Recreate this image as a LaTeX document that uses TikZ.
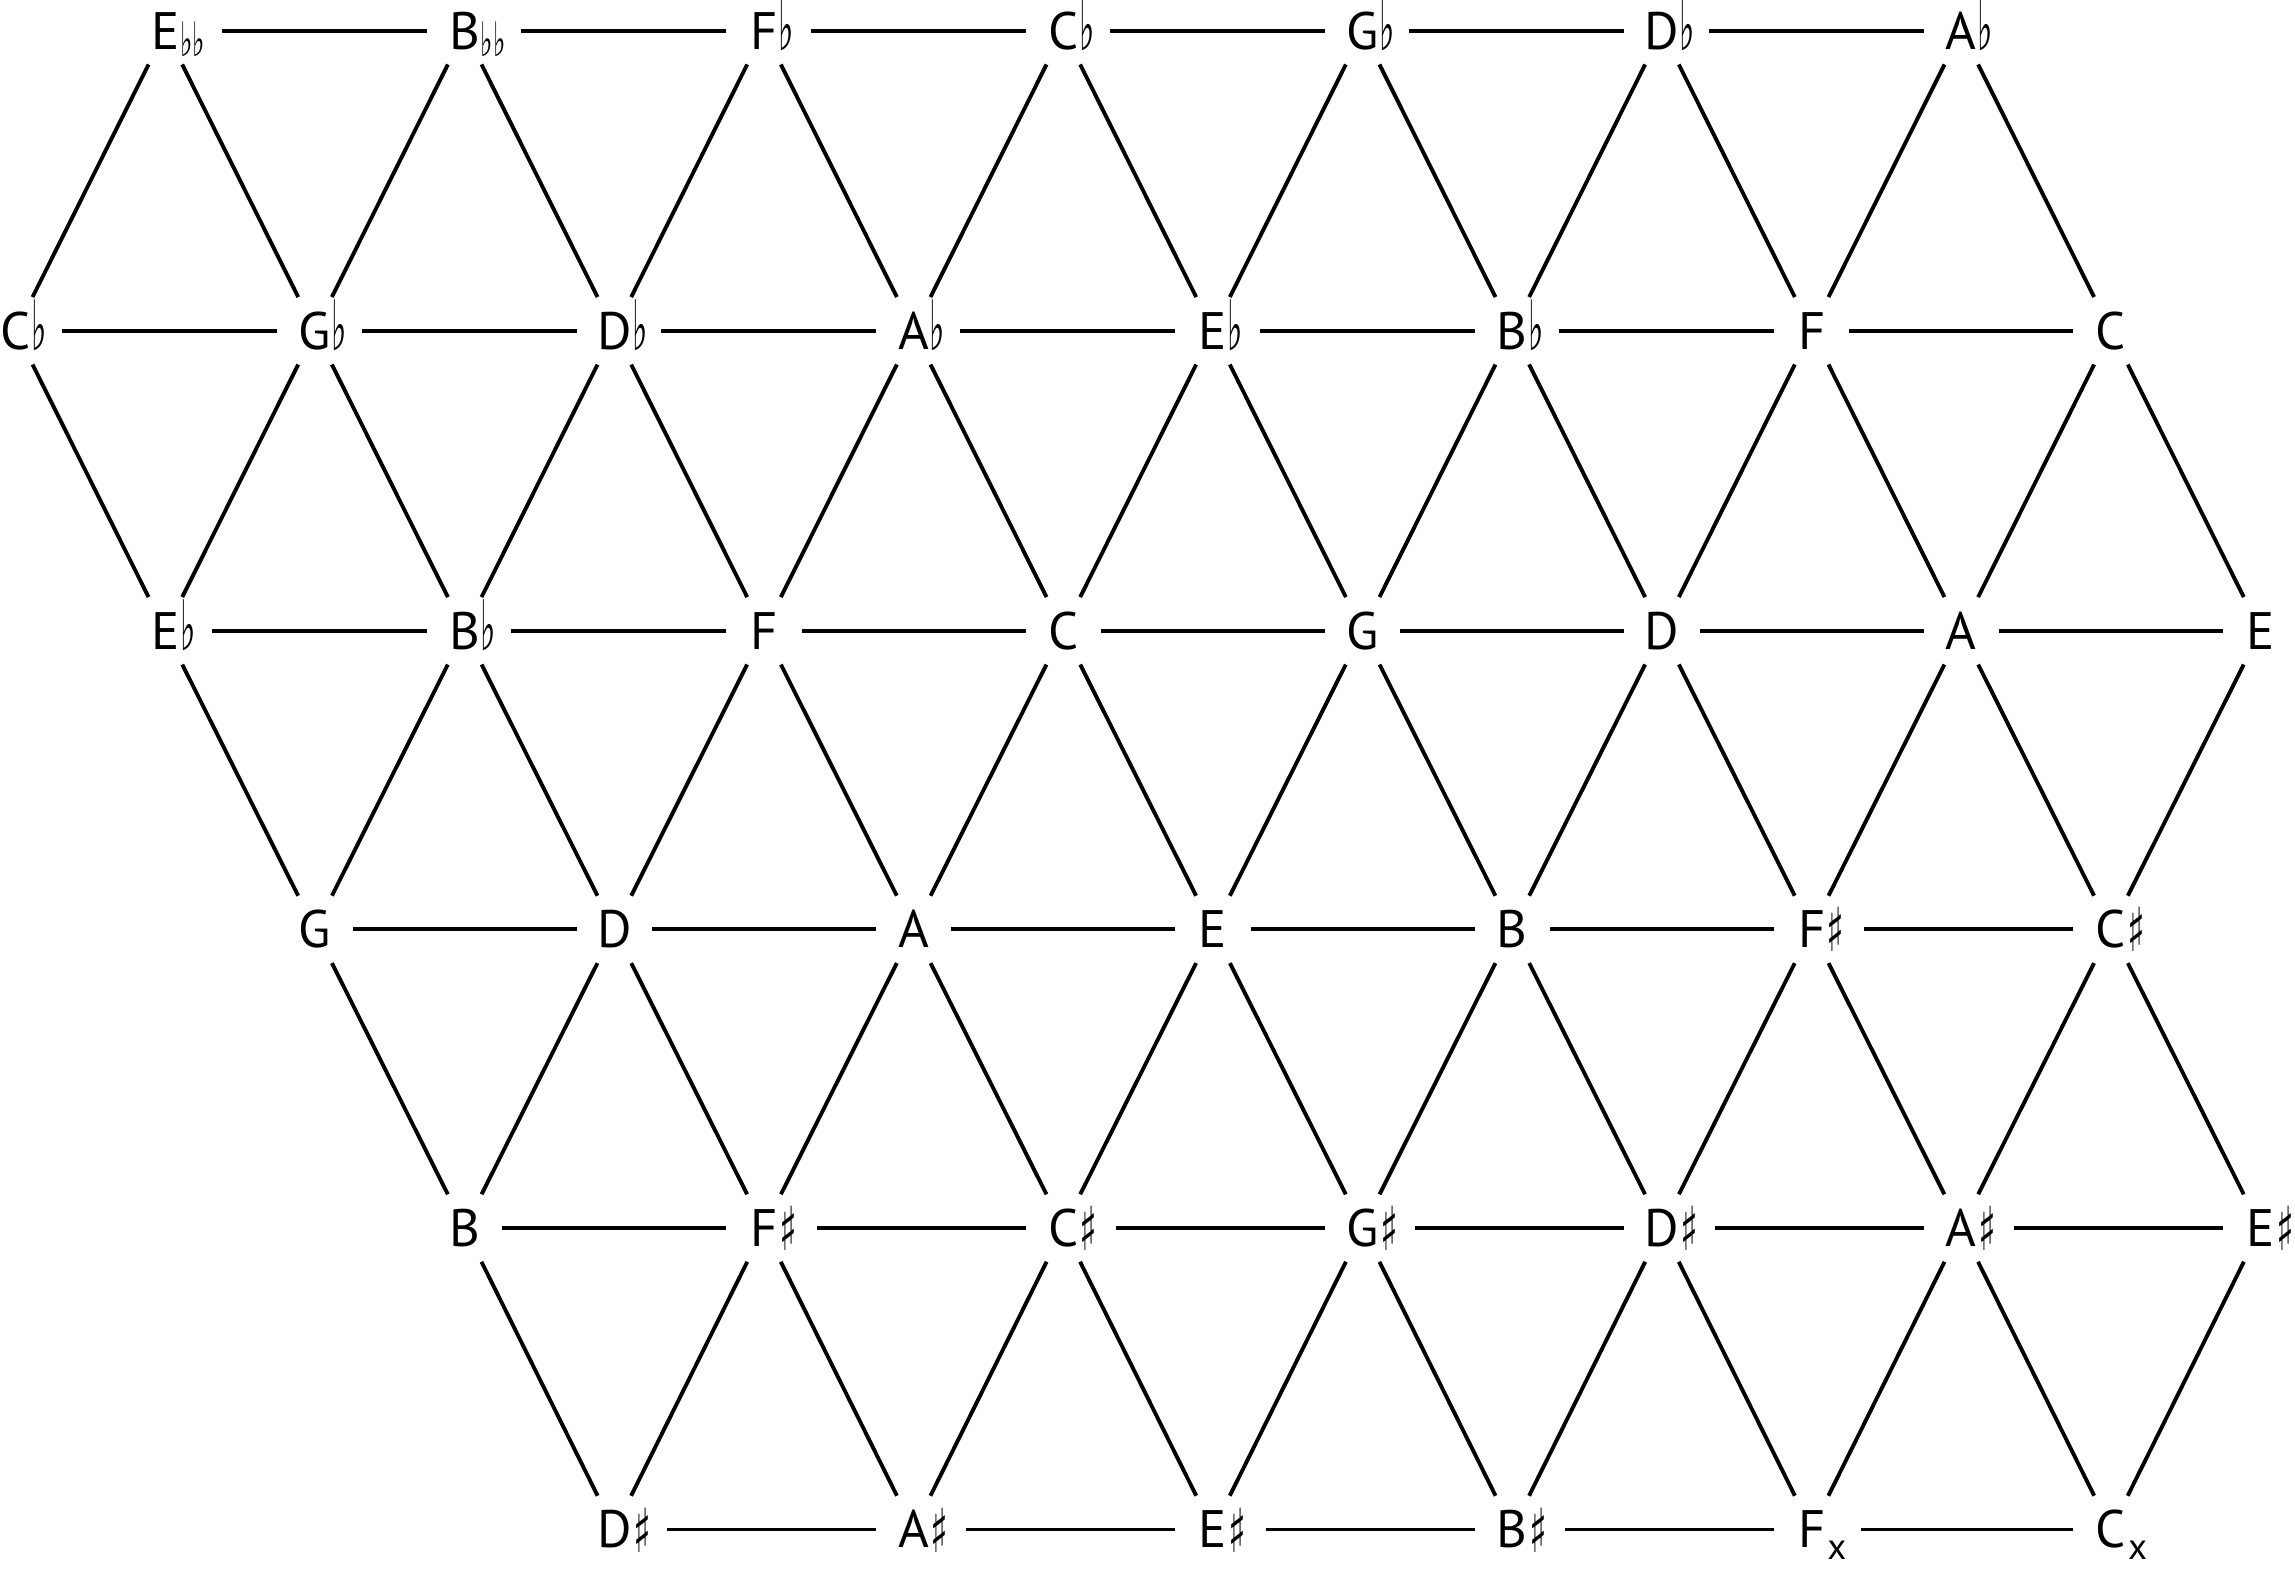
\documentclass[tikz,border=0pt]{standalone}
\usepackage{graphicx}
\usepackage{fontspec}
\setmainfont{PT Sans}
\newfontfamily\accfont{DejaVu Sans}
\newcommand{\Fl}{\rlap{\kern0.2pt\smash{\raisebox{-0.3pt}{\accfont\scalebox{0.62}[1.32]{♭}}}}}
\newcommand{\DFl}{\rlap{\kern0.2pt\smash{\raisebox{-2pt}{\accfont\scalebox{0.5}[0.9]{♭♭}}}}}
\newcommand{\Sh}{\rlap{\kern0.4pt\smash{\raisebox{-1.2pt}{\accfont\scalebox{0.7}[1.15]{♯}}}}}
\newcommand{\DSh}{\rlap{\kern0.6pt\smash{\raisebox{-3.2pt}{\scalebox{0.7}{x}}}}}
\begin{document}
\begin{tikzpicture}[x=0.014637cm,y=-0.014637cm,
  lbl/.style={circle,inner sep=0pt,minimum size=0.74cm,text height=10.4pt,text depth=0pt,font=\fontsize{15}{17}\selectfont},
  edge/.style={line width=1.1pt,black}]
\fill[white] (0,0) rectangle (1568,1076.8);
\useasboundingbox (0,0) rectangle (1568,1076.8);
% row 0
\foreach \k/\t in {1/E\DFl,3/B\DFl,5/F\Fl,7/C\Fl,9/G\Fl,11/D\Fl,13/A\Fl}
  \node[lbl] (n0x\k) at ({10.75+102.25*\k},21) {\t};
% row 1
\foreach \k/\t in {0/C\Fl,2/G\Fl,4/D\Fl,6/A\Fl,8/E\Fl,10/B\Fl,12/F,14/C}
  \node[lbl] (n1x\k) at ({10.75+102.25*\k},226) {\t};
% row 2
\foreach \k/\t in {1/E\Fl,3/B\Fl,5/F,7/C,9/G,11/D,13/A,15/E}
  \node[lbl] (n2x\k) at ({10.75+102.25*\k},431) {\t};
% row 3
\foreach \k/\t in {2/G,4/D,6/A,8/E,10/B,12/F\Sh,14/C\Sh}
  \node[lbl] (n3x\k) at ({10.75+102.25*\k},635) {\t};
% row 4
\foreach \k/\t in {3/B,5/F\Sh,7/C\Sh,9/G\Sh,11/D\Sh,13/A\Sh,15/E\Sh}
  \node[lbl] (n4x\k) at ({10.75+102.25*\k},839) {\t};
% row 5
\foreach \k/\t in {4/D\Sh,6/A\Sh,8/E\Sh,10/B\Sh,12/F\DSh,14/C\DSh}
  \node[lbl] (n5x\k) at ({10.75+102.25*\k},1045) {\t};
% horizontal edges (row/k/extra gap after an accidental)
\foreach \rw/\k/\sh in {
  0/1/0.19,0/3/0.19,0/5/0.09,0/7/0.09,0/9/0.09,0/11/0.09,
  1/0/0.09,1/2/0.09,1/4/0.09,1/6/0.09,1/8/0.09,1/10/0.09,1/12/0,
  2/1/0.09,2/3/0.09,2/5/0,2/7/0,2/9/0,2/11/0,2/13/0,
  3/2/0,3/4/0,3/6/0,3/8/0,3/10/0,3/12/0.15,
  4/3/0,4/5/0.15,4/7/0.15,4/9/0.15,4/11/0.15,4/13/0.15,
  5/4/0.15,5/6/0.15,5/8/0.15,5/10/0.15,5/12/0.12}{
  \pgfmathtruncatemacro{\kr}{\k+2}
  \draw[edge,shorten <=\sh cm] (n\rw x\k) -- (n\rw x\kr);
}
% diagonal edges, left-down
\foreach \rw/\lo/\hi in {0/1/13,1/2/14,2/3/15,3/4/14,4/5/15}{
  \pgfmathtruncatemacro{\nx}{\lo+2}
  \pgfmathtruncatemacro{\rn}{\rw+1}
  \foreach \k in {\lo,\nx,...,\hi}{
    \pgfmathtruncatemacro{\kl}{\k-1}
    \draw[edge] (n\rw x\k) -- (n\rn x\kl);
  }
}
% diagonal edges, right-down
\foreach \rw/\lo/\hi in {0/1/13,1/0/14,2/1/13,3/2/14,4/3/13}{
  \pgfmathtruncatemacro{\nx}{\lo+2}
  \pgfmathtruncatemacro{\rn}{\rw+1}
  \foreach \k in {\lo,\nx,...,\hi}{
    \pgfmathtruncatemacro{\kr}{\k+1}
    \draw[edge] (n\rw x\k) -- (n\rn x\kr);
  }
}
\end{tikzpicture}
\end{document}
